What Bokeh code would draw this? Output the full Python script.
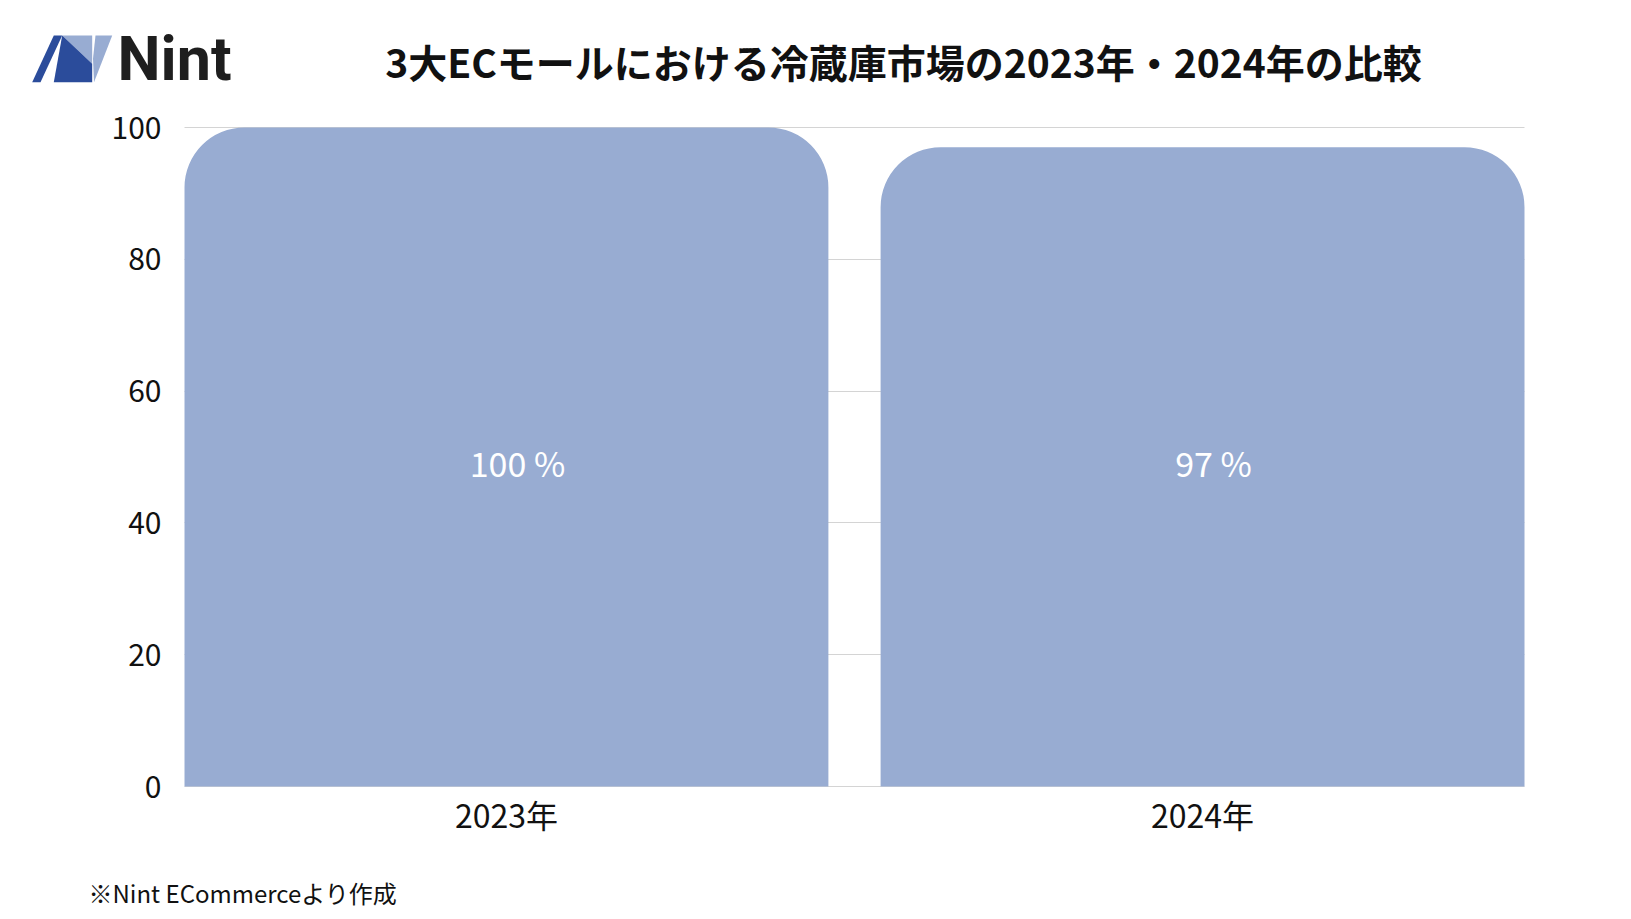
from bokeh.plotting import figure
from bokeh.models import Range1d, ColumnDataSource, LabelSet, FixedTicker
from bokeh.embed import file_html
from bokeh.resources import INLINE
from bokeh.core.properties import value

# ---- data ----
categories = ["2023年", "2024年"]
values = [100, 97]
y_ticks = [0, 20, 40, 60, 80, 100]
title_text = "3大ECモールにおける冷蔵庫市場の2023年・2024年の比較"
footnote_text = "※Nint ECommerceより作成"
logo_text = "Nint"

FONT = "Noto Sans CJK JP"
BAR = "#98ACD2"
DARK = "#2B4C9B"
GRID = "#D4D4D4"
W, H = 1631, 915
PL, PR, PT, PB = 184, 1524, 127, 786   # plotting area on the page (px)
BW = 0.925                              # bar width (category units)
YMAX = 100

xpos = [i + 0.5 for i in range(len(categories))]
X0, X1 = 0.5 - BW / 2, len(categories) - 0.5 + BW / 2
kx = (X1 - X0) / (PR - PL)
ky = YMAX / (PB - PT)

p = figure(width=W, height=H,
           x_range=Range1d(X0 - PL * kx, X1 + (W - PR) * kx),
           y_range=Range1d(-(H - PB) * ky, YMAX + PT * ky),
           min_border=0, min_border_left=0, min_border_right=0, min_border_top=0, min_border_bottom=0,
           output_backend="svg", toolbar_location=None,
           background_fill_color="white", border_fill_color="white", outline_line_color=None)
p.title.visible = False


def fx(x):
    return X0 + (x - PL) * kx


def fy(y):
    return (PB - y) * ky


src = ColumnDataSource(dict(x=xpos, val=values,
                            lab=[f"{v} %" for v in values],
                            ly=[max(values) / 2] * len(values)))

p.xgrid.grid_line_color = None
p.ygrid.ticker = FixedTicker(ticks=y_ticks)
if "cross_bounds" in p.ygrid.properties():
    p.ygrid.cross_bounds = (X0, X1)
    p.ygrid.grid_line_color = GRID
    p.ygrid.grid_line_width = 1
else:
    p.ygrid.grid_line_color = None
    p.segment(x0=[X0] * len(y_ticks), x1=[X1] * len(y_ticks), y0=y_ticks, y1=y_ticks,
              line_color=GRID, line_width=1)

p.vbar(x="x", top="val", width=BW, source=src, fill_color=BAR, line_color=None,
       border_radius=(60, 60, 0, 0))
p.add_layout(LabelSet(x="x", y="ly", text="lab", source=src, text_align="center",
                      text_baseline="middle", text_color="white", text_font_size="34px",
                      text_font=value(FONT), x_offset=11, y_offset=-5))

# axes (library axes pinned to the plotting area)
p.yaxis.fixed_location = X0
p.yaxis.bounds = (0, YMAX)
p.yaxis.ticker = FixedTicker(ticks=y_ticks)
p.yaxis.axis_line_color = None
p.yaxis.major_tick_line_color = None
p.yaxis.minor_tick_line_color = None
p.yaxis.major_label_text_font = FONT
p.yaxis.major_label_text_font_size = "30px"
p.yaxis.major_label_text_color = "#111111"
p.yaxis.major_label_standoff = 17

p.xaxis.fixed_location = 0
p.xaxis.bounds = (X0, X1)
p.xaxis.ticker = FixedTicker(ticks=xpos)
p.xaxis.major_label_overrides = {x: c for x, c in zip(xpos, categories)}
p.xaxis.axis_line_color = None
p.xaxis.major_tick_line_color = None
p.xaxis.minor_tick_line_color = None
p.xaxis.major_label_text_font = FONT
p.xaxis.major_label_text_font_size = "32px"
p.xaxis.major_label_text_color = "#111111"
p.xaxis.major_label_standoff = -2

# ---- header: logo + title ----
icon_xs = [[31.7, 40, 61.7, 53.3],
           [61.7, 91.7, 91.7],
           [61.7, 91.7, 91.7, 53.3],
           [95, 111.7, 93.5, 92.5]]
icon_ys = [[81.7, 81.7, 35, 35],
           [35, 35, 63.3],
           [35, 63.3, 81.7, 81.7],
           [35, 35, 81.7, 58]]
p.patches(xs=[[fx(v) for v in xs] for xs in icon_xs],
          ys=[[fy(v) for v in ys] for ys in icon_ys],
          fill_color=[DARK, BAR, DARK, BAR], line_color=None)
p.text(x=[fx(117)], y=[fy(58)], text=[logo_text], text_align="left", text_baseline="middle",
       text_font=value("Roboto"), text_font_style="bold", text_font_size=value("61px"),
       text_color="#1E1E1E")
p.text(x=[fx(903)], y=[fy(60)], text=[title_text], text_align="center", text_baseline="middle",
       text_font=value(FONT), text_font_style="bold", text_font_size=value("39px"),
       text_color="#111111")

# ---- footnote ----
p.text(x=[fx(88)], y=[fy(892)], text=[footnote_text], text_align="left", text_baseline="middle",
       text_font=value(FONT), text_font_size=value("24px"), text_color="#111111")

open("out.html", "w").write(file_html(p, INLINE))
